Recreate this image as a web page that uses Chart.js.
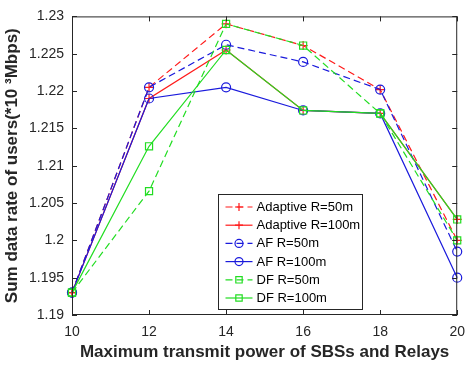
<!DOCTYPE html>
<html>
<head>
<meta charset="utf-8">
<script src="https://cdn.jsdelivr.net/npm/chart.js@4.4.0/dist/chart.umd.min.js"></script>
<style>
  html, body { margin: 0; padding: 0; background: #fff; }
  #wrap { width: 474px; height: 365px; }
</style>
</head>
<body>
<div id="wrap"><canvas id="myChart" width="474" height="365"></canvas></div>
<script>
// values
var powers = [10, 12, 14, 16, 18, 20];
var adaptive50 = [1.193, 1.2205, 1.229, 1.2261, 1.2202, 1.2];
var adaptive100 = [1.193, 1.219, 1.2255, 1.2174, 1.217, 1.2028];
var af50 = [1.193, 1.2205, 1.2262, 1.2239, 1.2202, 1.1985];
var af100 = [1.193, 1.219, 1.2205, 1.2174, 1.217, 1.195];
var df50 = [1.193, 1.2066, 1.229, 1.2261, 1.217, 1.2];
var df100 = [1.193, 1.2126, 1.2255, 1.2174, 1.217, 1.2028];
var xTicks = [10, 12, 14, 16, 18, 20];
var yTicks = [1.19, 1.195, 1.2, 1.205, 1.21, 1.215, 1.22, 1.225, 1.23];

var RED = '#ff1a1a', BLUE = '#1a1adc', GREEN = '#22dd22';
var axisColor = '#262626';

function pts(ys) {
  return powers.map(function (x, i) { return { x: x, y: ys[i] }; });
}

function series(label, ys, color, dashed, style, r, order) {
  return {
    label: label,
    data: pts(ys),
    borderColor: color,
    backgroundColor: 'rgba(0,0,0,0)',
    borderWidth: 1.2,
    borderDash: dashed ? [7, 4] : [],
    pointStyle: style,
    pointRadius: r,
    pointBorderWidth: 1.2,
    pointBorderColor: color,
    pointBackgroundColor: 'rgba(0,0,0,0)',
    tension: 0,
    clip: false,
    order: order
  };
}

var datasets = [
  series('Adaptive R=50m', adaptive50, RED, true, 'cross', 4.5, 6),
  series('Adaptive R=100m', adaptive100, RED, false, 'cross', 4.5, 5),
  series('AF R=50m', af50, BLUE, true, 'circle', 4.5, 4),
  series('AF R=100m', af100, BLUE, false, 'circle', 4.5, 3),
  series('DF R=50m', df50, GREEN, true, 'rect', 5, 2),
  series('DF R=100m', df100, GREEN, false, 'rect', 5, 1)
];

// matlab style box with inward ticks, plus the legend inside the axes
var boxPlugin = {
  id: 'box',
  afterDraw: function (chart) {
    var ctx = chart.ctx, a = chart.chartArea;
    var xs = chart.scales.x, ys = chart.scales.y;
    ctx.save();
    ctx.strokeStyle = axisColor;
    ctx.lineWidth = 1;
    ctx.setLineDash([]);
    ctx.strokeRect(a.left + 0.5, a.top + 0.5, a.right - a.left - 1, a.bottom - a.top - 1);
    var t = 5;
    ctx.beginPath();
    xTicks.forEach(function (v) {
      var px = Math.round(xs.getPixelForValue(v)) + 0.5;
      ctx.moveTo(px, a.bottom); ctx.lineTo(px, a.bottom - t);
      ctx.moveTo(px, a.top); ctx.lineTo(px, a.top + t);
    });
    yTicks.forEach(function (v) {
      var py = Math.round(ys.getPixelForValue(v)) + 0.5;
      ctx.moveTo(a.left, py); ctx.lineTo(a.left + t, py);
      ctx.moveTo(a.right, py); ctx.lineTo(a.right - t, py);
    });
    ctx.stroke();

    // legend
    var lx = 218.5, ly = 194.5, lw = 144, lh = 115, row = 18.2;
    ctx.fillStyle = '#fff';
    ctx.fillRect(lx, ly, lw, lh);
    ctx.strokeStyle = axisColor;
    ctx.strokeRect(lx, ly, lw, lh);
    ctx.font = '13px "Liberation Sans", Arial, sans-serif';
    ctx.textBaseline = 'middle';
    datasets.forEach(function (d, i) {
      var cy = ly + 12.5 + i * row;
      ctx.strokeStyle = d.borderColor;
      ctx.lineWidth = 1.2;
      ctx.setLineDash(d.borderDash);
      ctx.beginPath();
      ctx.moveTo(lx + 7, cy); ctx.lineTo(lx + 34, cy);
      ctx.stroke();
      ctx.setLineDash([]);
      ctx.fillStyle = 'rgba(0,0,0,0)';
      Chart.helpers.drawPoint(ctx, {
        pointStyle: d.pointStyle, radius: d.pointStyle === 'rect' ? 4.5 : 4,
        borderWidth: 1.2, rotation: 0
      }, lx + 20.5, cy);
      ctx.fillStyle = '#000';
      ctx.fillText(d.label, lx + 38, cy + 0.5);
    });
    ctx.restore();
  }
};

var ctx = document.getElementById('myChart').getContext('2d');
var chart = new Chart(ctx, {
  type: 'line',
  data: { datasets: datasets },
  options: {
    responsive: false,
    animation: false,
    layout: { padding: { top: 6, right: 10, left: 0, bottom: 0 } },
    plugins: { legend: { display: false }, tooltip: { enabled: false } },
    scales: {
      x: {
        type: 'linear',
        min: 10, max: 20,
        afterBuildTicks: function (s) { s.ticks = xTicks.map(function (v) { return { value: v }; }); },
        afterFit: function (s) { s.height = 50; },
        grid: { display: false, drawTicks: false },
        border: { display: false },
        ticks: { padding: 9, color: axisColor, font: { family: '"Liberation Sans", Arial', size: 14 }, maxRotation: 0 },
        title: {
          display: true,
          text: 'Maximum transmit power of SBSs and Relays',
          color: axisColor,
          font: { family: '"Liberation Sans", Arial', size: 17, weight: 'bold' },
          padding: { top: 0, bottom: 2 }
        }
      },
      y: {
        min: 1.19, max: 1.23,
        afterBuildTicks: function (s) { s.ticks = yTicks.map(function (v) { return { value: v }; }); },
        afterFit: function (s) { s.width = 72; },
        grid: { display: false, drawTicks: false },
        border: { display: false },
        ticks: {
          padding: 8, color: axisColor,
          font: { family: '"Liberation Sans", Arial', size: 14 },
          callback: function (v) { return String(+v.toFixed(3)); }
        },
        title: {
          display: true,
          text: 'Sum data rate of users(*10 ³Mbps)',
          color: axisColor,
          font: { family: '"Liberation Sans", Arial', size: 17, weight: 'bold' },
          padding: { top: 2, bottom: 0 }
        }
      }
    }
  },
  plugins: [boxPlugin]
});
</script>
</body>
</html>
